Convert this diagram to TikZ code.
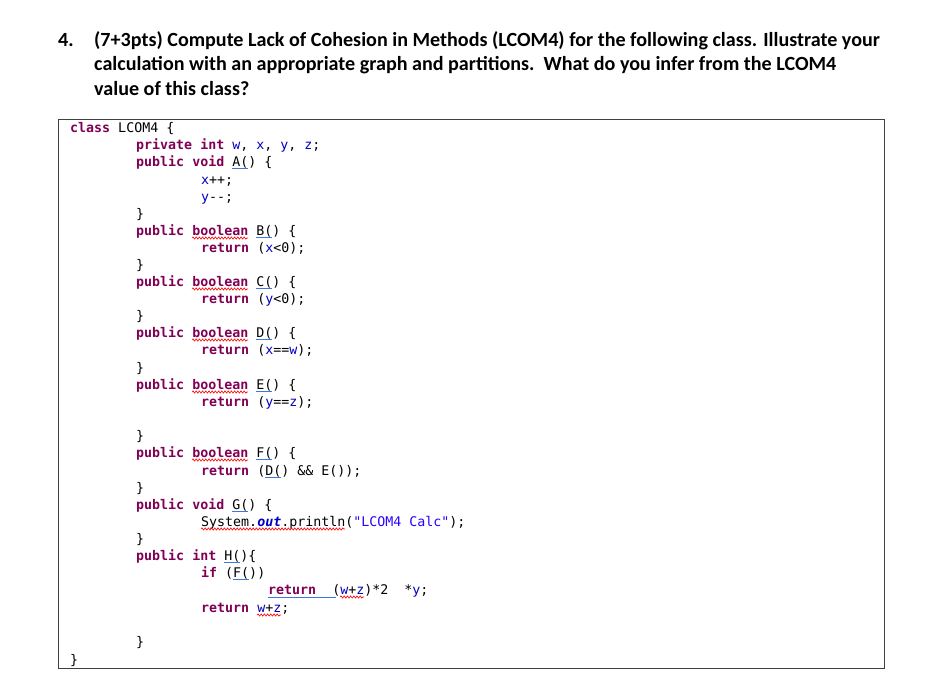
\documentclass[tikz,border=0pt]{standalone}
\usepackage{fontspec}
\setmainfont{Carlito}
\setmonofont{DejaVu Sans Mono}
\usetikzlibrary{decorations.pathmorphing}
\definecolor{kwc}{HTML}{7F0055}
\definecolor{fldc}{HTML}{0000C0}
\definecolor{strc}{HTML}{2A00FF}
\definecolor{ulc}{HTML}{3C78D8}
\newcommand\KW[1]{\textcolor{kwc}{\bfseries #1}}
\newcommand\FL[1]{\textcolor{fldc}{#1}}
\tikzset{
 hd/.style={anchor=base west,inner sep=0pt,font=\fontsize{20.1}{24}\selectfont\bfseries},
 cd/.style={anchor=base west,inner sep=0pt,font=\ttfamily\fontsize{13.3}{15}\selectfont},
 sq/.style={draw=red,line width=0.6pt,decorate,decoration={snake,amplitude=1.1pt,segment length=3.2pt}},
 dul/.style={draw=ulc,line width=0.6pt,double=white,double distance=0.9pt},
 sul/.style={draw=ulc,line width=0.8pt}
}
\newcommand\cw{8.0}
\begin{document}
\begin{tikzpicture}[x=1pt,y=1pt]
\useasboundingbox (0,0) rectangle (939,-686);
\node[hd] (n4) at (58,-46) {4.};
\node[hd] (h1) at (94,-46) {(7+3pts) Compute Lack of Cohesion in Methods (LCOM4) for the following class. Illustrate your};
\node[hd] (h2) at (94,-70) {calculation with an appropriate graph and partitions.\ \ What do you infer from the LCOM4};
\node[hd] (h3) at (94,-95) {value of this class?};
\draw[line width=0.7pt,draw=black!75] (58,-119) rectangle (884,-668);
\foreach \xx/\yy/\tt [count=\i] in {
 70/132/{\KW{class} LCOM4 \{},
 136/149/{\KW{private} \KW{int} \FL{w}, \FL{x}, \FL{y}, \FL{z};},
 136/166/{\KW{public} \KW{void} A() \{},
 201/184/{\FL{x}++;},
 201/201/{\FL{y}-{}-;},
 136/218/{\}},
 136/235/{\KW{public} \KW{boolean} B() \{},
 201/252/{\KW{return} (\FL{x}<0);},
 136/269/{\}},
 136/286/{\KW{public} \KW{boolean} C() \{},
 201/303/{\KW{return} (\FL{y}<0);},
 136/320/{\}},
 136/337/{\KW{public} \KW{boolean} D() \{},
 201/354/{\KW{return} (\FL{x}==\FL{w});},
 136/372/{\}},
 136/389/{\KW{public} \KW{boolean} E() \{},
 201/406/{\KW{return} (\FL{y}==\FL{z});},
 136/440/{\}},
 136/457/{\KW{public} \KW{boolean} F() \{},
 201/475/{\KW{return} (D() \&\& E());},
 136/492/{\}},
 136/509/{\KW{public} \KW{void} G() \{},
 201/526/{System.\textcolor{fldc}{\bfseries\itshape out}.println(\textcolor{strc}{"LCOM4 Calc"});},
 136/543/{\}},
 136/560/{\KW{public} \KW{int} H()\{},
 201/577/{\KW{if} (F())},
 268/594/{\KW{return}\ \ (\FL{w}+\FL{z})*2\ \ *\FL{y};},
 201/612/{\KW{return} \FL{w}+\FL{z};},
 136/646/{\}},
 70/664/{\}}}
 { \node[cd] (c\i) at (\xx,-\yy) {\tt}; }
\foreach \xs/\k/\yy in {136/12/166, 136/15/235, 136/15/286, 136/15/337, 136/15/389, 136/15/457, 136/12/509, 136/11/560, 201/4/577, 201/8/475}
 { \draw[dul] (\xs+\k*\cw,-\yy-3) -- ++(2*\cw,0); }
\foreach \yy in {235,286,337,389,457}
 { \draw[sq] (136+7*\cw,-\yy-3) -- ++(7*\cw,0); }
\draw[sq] (201,-529) -- ++(18*\cw,0);
\draw[sq] (268+9*\cw,-597) -- ++(3*\cw,0);
\draw[sq] (201+7*\cw,-615) -- ++(3*\cw,0);
\draw[sul] (268,-597) -- ++(8.5*\cw,0);
\end{tikzpicture}
\end{document}
